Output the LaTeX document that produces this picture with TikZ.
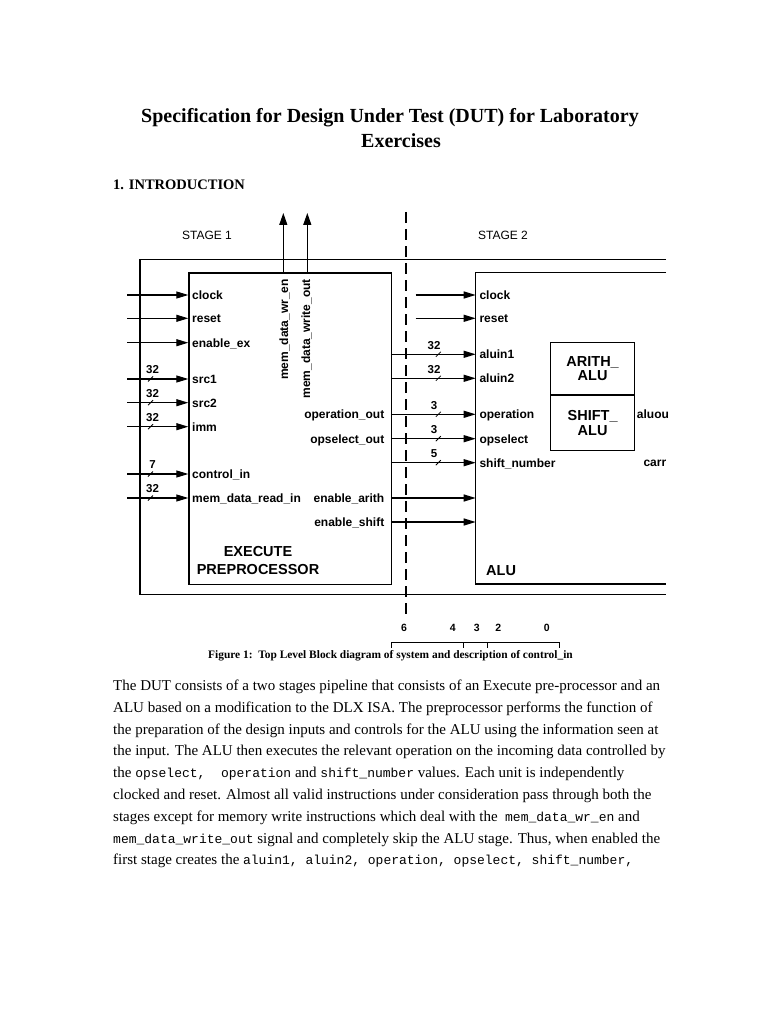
\documentclass[tikz,border=0pt]{standalone}
\usepackage{fontspec}
\setmainfont{Liberation Serif}
\setsansfont{Liberation Sans}
\setmonofont{Liberation Mono}
\usetikzlibrary{arrows.meta}
\newcommand\cmono[1]{{\fontsize{13}{15}\ttfamily #1}}
\tikzset{
 wire/.style={line width=1.2pt},
 arr/.style={line width=1.2pt, -{Triangle[length=12pt,width=7pt]}},
 upar/.style={line width=1.2pt, -{Triangle[length=12pt,width=8pt]}},
 lbl/.style={font=\sffamily\bfseries\fontsize{12}{13}\selectfont, inner sep=0pt},
 buslbl/.style={font=\sffamily\bfseries\fontsize{11.5}{12}\selectfont, inner sep=0pt, anchor=base},
 stagelbl/.style={font=\sffamily\fontsize{12}{13}\selectfont, inner sep=0pt},
 big/.style={font=\sffamily\bfseries\fontsize{14.5}{14.5}\selectfont, inner sep=0pt, align=center},
 bodyline/.style={font=\fontsize{15}{17}\selectfont, inner sep=0pt, anchor=base west},
 bitnum/.style={font=\sffamily\bfseries\fontsize{10.5}{11}\selectfont, inner sep=0pt},
}
\begin{document}
\begin{tikzpicture}[x=1pt,y=-1pt]
\useasboundingbox (0,0) rectangle (768,1024);
\fill[white] (0,0) rectangle (768,1024);

% title
\node[font=\bfseries\fontsize{20}{22}\selectfont, inner sep=0pt] (title1) at (390,118) {Specification for Design Under Test (DUT) for Laboratory};
\node[font=\bfseries\fontsize{20}{22}\selectfont, inner sep=0pt] (title2) at (401,141) {Exercises};
\node[font=\bfseries\fontsize{14.5}{16}\selectfont, inner sep=0pt, anchor=west] (intro) at (113,185) {1. INTRODUCTION};

% stage labels
\node[stagelbl] (st1) at (207,235) {STAGE 1};
\node[stagelbl] (st2) at (503,235) {STAGE 2};

% outer frame
\draw[wire] (666,259.3) -| (140,594.3) -- (666,594.3);

% execute box
\node[draw, wire, minimum width=202.7pt, minimum height=311.7pt, anchor=north west, inner sep=0pt] (exe) at (188.3,272.3) {};
\node[big, align=center, font=\sffamily\bfseries\fontsize{14.5}{17.5}\selectfont] (exetitle) at (258,560.5) {EXECUTE\\PREPROCESSOR};

% ALU box (open to the right)
\coordinate (aluL) at (475.7,272.3);
\draw[wire] (666,272.3) -- (aluL) -- (475.7,584) -- (666,584);
\node[big, anchor=base west] (alutitle) at (486,575) {ALU};

% sub-blocks
\node[draw, wire, minimum width=84pt, minimum height=52.3pt, anchor=north west, big] (arith) at (550,341.7) {ARITH\_\\ALU};
\node[draw, wire, minimum width=84pt, minimum height=54.3pt, anchor=north, big] (shift) at (arith.south) {SHIFT\_\\ALU};
\node[lbl, anchor=base west] (aluout) at (636.7,418.5) {aluou};
\node[lbl, anchor=base west] (carry) at (643.3,466.5) {carr};

% stage boundary
\draw[line width=2.2pt, dash pattern=on 11pt off 6pt] (405.7,212) coordinate (dtop) -- (405.7,617) coordinate (dbot);

% inputs of execute preprocessor
\foreach \n/\y/\t in {clk/295/clock, rst/318.3/reset, en/342.7/enable\_ex, s1/379/src1, s2/402.7/src2, im/426.7/imm, ci/474/control\_in, md/498/mem\_data\_read\_in} {
  \coordinate (in-\n) at (127,\y);
  \node[lbl, anchor=base west] (lab-\n) at (192,\y+4.3) {\t};
  \draw[arr] (in-\n) -- (in-\n -| exe.west);
}
\foreach \n/\y/\b in {s1/379/32, s2/402.7/32, im/426.7/32, ci/474/7, md/498/32} {
  \draw[line width=0.8pt] (148,\y+2.5) -- (153,\y-2.5);
  \node[buslbl] (bw-\n) at (152.5,\y-5.3) {\b};
}

% memory outputs
\coordinate (wr) at (283.3,213);
\coordinate (wo) at (307.3,213);
\draw[upar] (wr |- exe.north) -- (wr);
\draw[upar] (wo |- exe.north) -- (wo);
\node[lbl, rotate=90, anchor=east] (lwr) at (284.5,279) {mem\_data\_wr\_en};
\node[lbl, rotate=90, anchor=east] (lwo) at (306.5,279) {mem\_data\_write\_out};

% execute outputs labels
\foreach \n/\y/\t in {op/414.3/operation\_out, os/438.7/opselect\_out, ea/498/enable\_arith, es/522/enable\_shift} {
  \node[lbl, anchor=base east] (out-\n) at (384.5,\y+4.3) {\t};
}

% stage 1 -> stage 2 connections
\foreach \n/\y in {a1/354.3, a2/378.3, op/414.3, os/438.7, sn/462.7, ea/498, es/522} {
  \coordinate (o-\n) at (390.9,\y);
  \draw[arr] (o-\n) -- (o-\n -| aluL);
}
\foreach \n/\y/\b in {a1/354.3/32, a2/378.3/32, op/414.3/3, os/438.7/3, sn/462.7/5} {
  \draw[line width=0.8pt] (435.8,\y+2.5) -- (440.8,\y-2.5);
  \node[buslbl] (bb-\n) at (434,\y-5.3) {\b};
}

% ALU clock / reset
\foreach \n/\y in {clk/295, rst/318.3} {
  \coordinate (ac-\n) at (415.7,\y);
  \draw[arr] (ac-\n) -- (ac-\n -| aluL);
}

% ALU input labels
\foreach \n/\y/\t in {clk/295/clock, rst/318.3/reset, a1/354.3/aluin1, a2/378.3/aluin2, op/414.3/operation, os/438.7/opselect, sn/462.7/shift\_number} {
  \node[lbl, anchor=base west] (al-\n) at (479.3,\y+4.3) {\t};
}

% control_in bit ruler
\foreach \n/\x in {6/404, 4/452.7, 3/476.7, 2/498.3, 0/546.7} {
  \node[bitnum] (bit\n) at (\x,628.3) {\n};
}
\draw[line width=0.9pt] (391,648) |- (559,642.7) -- (559,648);
\draw[line width=0.9pt] (463.3,642.7) -- (463.3,648);
\draw[line width=0.9pt] (487.3,642.7) -- (487.3,648);

% caption
\node[font=\bfseries\fontsize{11.4}{13}\selectfont, inner sep=0pt] (cap) at (390.5,656) {Figure 1:\ \ Top Level Block diagram of system and description of control\_in};

% body text
\node[bodyline] (p1) at (113,690.5) {The DUT consists of a two stages pipeline that consists of an Execute pre-processor and an};
\node[bodyline] (p2) at (113,712.3) {ALU based on a modification to the DLX ISA. The preprocessor performs the function of};
\node[bodyline] (p3) at (113,734.1) {the preparation of the design inputs and controls for the ALU using the information seen at};
\node[bodyline] (p4) at (113,755.9) {the input. The ALU then executes the relevant operation on the incoming data controlled by};
\node[bodyline] (p5) at (113,777.7) {the \cmono{opselect,\ \ operation} and \cmono{shift\_number} values. Each unit is independently};
\node[bodyline] (p6) at (113,799.5) {clocked and reset. Almost all valid instructions under consideration pass through both the};
\node[bodyline] (p7) at (113,821.3) {stages except for memory write instructions which deal with the \ \cmono{mem\_data\_wr\_en} and};
\node[bodyline] (p8) at (113,843.1) {\cmono{mem\_data\_write\_out} signal and completely skip the ALU stage. Thus, when enabled the};
\node[bodyline] (p9) at (113,864.9) {first stage creates the \cmono{aluin1, aluin2, operation, opselect, shift\_number,}};
\end{tikzpicture}
\end{document}
